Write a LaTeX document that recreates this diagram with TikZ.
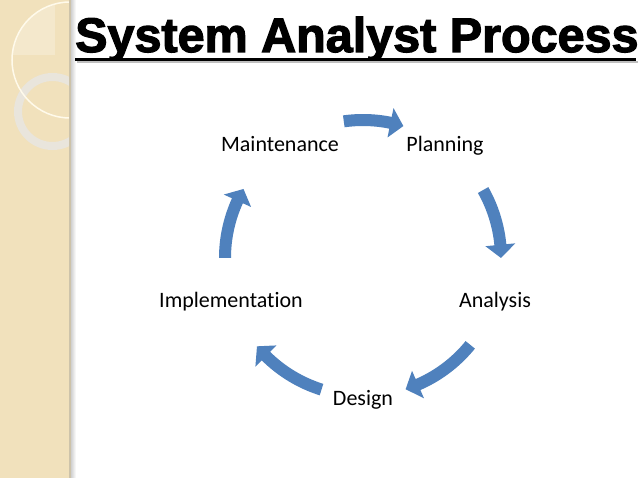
\documentclass[tikz,border=0pt]{standalone}
\usepackage{fontspec}
\setmainfont{Carlito}[Ligatures=NoCommon]
\newfontfamily\titlefont{Liberation Sans}[BoldFeatures={FakeBold=2.5}]
\usetikzlibrary{calc}
\definecolor{stripbeige}{RGB}{241,225,188}
\definecolor{stripedge}{RGB}{205,195,170}
\definecolor{ringgray}{RGB}{233,229,220}
\definecolor{circline}{RGB}{255,250,235}
\definecolor{arrowblue}{RGB}{79,129,189}
\tikzset{
  lbl/.style={font=\fontsize{22}{26}\selectfont, inner sep=0pt, anchor=base, text=black},
  titletext/.style={font=\titlefont\bfseries\fontsize{48.5}{52}\selectfont, inner sep=0pt, anchor=base west},
  cyc/.style={fill=arrowblue}
}
\newcommand{\cyclearrow}[2]{%
  \pgfmathsetmacro{\hb}{#2+5.5}%
  \fill[cyc] ($(C)+(#1:144)$) arc[start angle=#1,end angle=\hb,radius=144]
    -- ($(C)+(\hb:153)$) -- ($(C)+(#2:138)$) -- ($(C)+(\hb:123)$)
    -- ($(C)+(\hb:132)$) arc[start angle=\hb,end angle=#1,radius=132] -- cycle;}
\begin{document}
\begin{tikzpicture}[x=1pt,y=1pt]
\useasboundingbox (0,0) rectangle (638,-478);
\fill[white] (0,0) rectangle (638,-478);
% left strip
\fill[stripbeige] (0,0) rectangle (70,-478);
\begin{scope}
  \clip (0,0) rectangle (70,-478);
  \begin{scope}
    \clip (70,-60) circle[radius=58];
    \fill[white,opacity=0.25] (0,0) rectangle (55,-55);
  \end{scope}
  \draw[ringgray, line width=8pt] (52.5,-111.5) circle[radius=34.5];
  \draw[circline, line width=1.5pt] (70,-60) circle[radius=58];
\end{scope}
\shade[left color=black!18, right color=white] (71,0) rectangle (76,-478);
\fill[stripedge] (69,0) rectangle (71,-478);
% title
\node[titletext] (title) at (75,-52) {System Analyst Process};
\fill[black!25] (77,-61) rectangle (638,-63);
\fill[black] (75,-58) rectangle (636,-61);
% cycle
\coordinate (C) at (363,-258);
\node[lbl] (maint) at (280,-152) {Maintenance};
\node[lbl] (plan) at (445,-152) {Planning};
\node[lbl] (anal) at (495,-308) {Analysis};
\node[lbl] (design) at (363,-406) {Design};
\node[lbl] (impl) at (231,-308) {Implementation};
\cyclearrow{98}{73}
\cyclearrow{29.5}{0}
\cyclearrow{-39}{-72}
\cyclearrow{252.5}{219.8}
\cyclearrow{180}{150}
\end{tikzpicture}
\end{document}
